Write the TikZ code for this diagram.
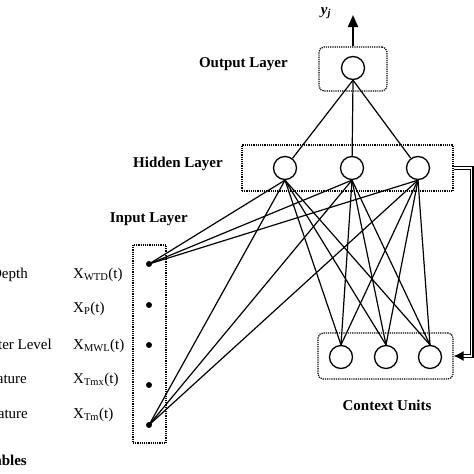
\documentclass[tikz,border=0pt]{standalone}
\usepackage{fontspec}
\setmainfont{Liberation Serif}
\usetikzlibrary{
  arrows.meta,
  positioning
}

\begin{document}
\begin{tikzpicture}[x=1pt,y=-1pt,
  neuron/.style={circle,draw,line width=1.3pt,minimum size=23pt,inner sep=0pt},
  dotunit/.style={circle,fill,minimum size=6pt,inner sep=0pt},
  layerbox/.style={draw,densely dotted,line width=1.2pt,inner sep=0pt},
  layername/.style={font=\fontsize{15}{18}\selectfont\bfseries,inner sep=0pt},
  varname/.style={font=\fontsize{15}{18}\selectfont,inner sep=0pt},
  link/.style={line width=1.2pt}
]
\useasboundingbox (0,0) rectangle (474,474);
\clip (0,0) rectangle (474,474);

\node [layerbox,rounded corners=5pt,minimum width=68pt,minimum height=44pt] (output-box) at (353,69) {};
\node [layerbox,minimum width=211pt,minimum height=46pt] (hidden-box) at (347.5,168) {};
\node [layerbox,rounded corners=5pt,minimum width=135pt,minimum height=46pt] (context-box) at (385.5,356) {};
\node [layerbox,minimum width=33pt,minimum height=198pt] (input-box) at (149.5,344) {};

\node [neuron] (out) at (353,68) {};
\foreach \i/\x in {1/285,2/352,3/418}
  \node [neuron] (h\i) at (\x,168) {};
\foreach \i/\x in {1/341,2/386,3/430}
  \node [neuron] (c\i) at (\x,357) {};
\foreach \i/\y in {1/264,2/305,3/345,4/385,5/425}
  \node [dotunit] (in\i) at (149,\y) {};

\foreach \h in {1,2,3} {
  \draw [link] (out.south) -- (h\h);
  \draw [link] (in1.center) -- (h\h.south);
  \draw [link] (in5.center) -- (h\h.south);
  \foreach \c in {1,2,3}
    \draw [link] (c\c.north) -- (h\h.south);
}

\coordinate (y-tip) at (353,15);
\draw [line width=2pt,-{Triangle[width=10pt,length=12pt]}] (output-box.north) -- (y-tip);
\node [varname,font=\fontsize{15}{18}\selectfont\bfseries\itshape,anchor=base] (y-label) at (326,14) {y\textsubscript{j}};

\draw [double,double distance=1.4pt,line width=1.2pt,-{Latex[length=10pt,width=10pt]}] (hidden-box.east) -- ++(18,0) |- (context-box.east);

\node [layername,anchor=base east] (output-name) at (288,67) {Output Layer};
\node [layername,anchor=base east] (hidden-name) at (223,167) {Hidden Layer};
\node [layername,anchor=base east] (input-name) at (188,222) {Input Layer};
\node [layername,anchor=base] (context-name) at (387,410) {Context Units};
\node [layername,anchor=base east] (vars-name) at (27,465) {Variables};

\foreach \n/\y/\t in {1/278/WTD,2/312/P,3/349/MWL,4/383/Tmx,5/418/Tm}
  \node [varname,anchor=base west] (x\n) at (73,\y) {X\textsubscript{\t}(t)};

\node [varname,anchor=base east] (v1) at (28,278) {Depth};
\node [varname,anchor=base east] (v3) at (52,349) {Water Level};
\node [varname,anchor=base east] (v4) at (27,383) {Temperature};
\node [varname,anchor=base east] (v5) at (28,418) {Temperature};
\end{tikzpicture}
\end{document}
